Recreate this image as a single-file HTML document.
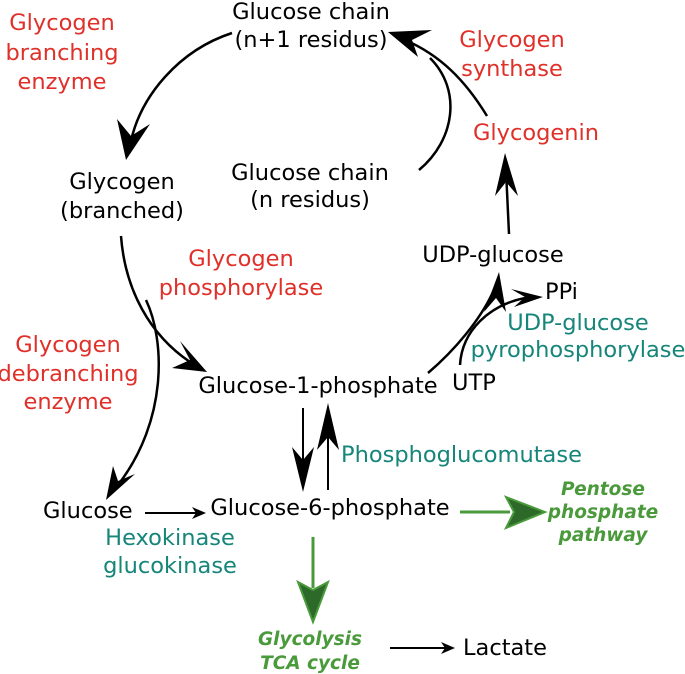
<!DOCTYPE html>
<html><head><meta charset="utf-8"><style>
html,body{margin:0;padding:0;background:#fff;}
svg{display:block;}
text{font-family:"DejaVu Sans","Liberation Sans",sans-serif;font-size:22.5px;}
.k{fill:#000}.r{fill:#e0302a}.t{fill:#16857a}
.g{fill:#4a9a3c;font-weight:bold;font-style:italic;font-size:18.5px}
</style></head><body>
<svg width="685" height="674" viewBox="0 0 685 674" xmlns="http://www.w3.org/2000/svg">
<g fill="none" stroke="#000" stroke-width="2.5">
<path d="M232,33 C180,50 140,95 130,145"/>
<path d="M487,116 C465,80 440,55 405,40"/>
<path d="M419,170 C455,140 462,90 430,58"/>
<path d="M509,234 C508,210 507,190 506,170"/>
<path d="M121,236 C125,290 150,335 190,362"/>
<path d="M146,300 C165,340 168,420 118,485"/>
<path d="M428,373 C455,350 480,320 493,292"/>
<path d="M460,365 C462,330 490,305 525,298"/>
<path d="M303,408 L303,475" stroke-width="2"/>
<path d="M328,490 L328,425" stroke-width="2"/>
<path d="M145,513 L200,513" stroke-width="2"/>
<path d="M390,648 L448,648" stroke-width="2"/>
</g>
<g fill="#000">
<polygon points="126,160 117,119 131,136 150,124"/>
<polygon points="388,32 432,30 412,40 418,57"/>
<polygon points="505,153 495,196 506,182 518,196"/>
<polygon points="207,372 172,368 190,360 180,341"/>
<polygon points="106,500 113,466 118,481 135,474"/>
<polygon points="499,272 484,312 496,298 506,312"/>
<polygon points="543,297 511,289 525,297 514,307"/>
<polygon points="303,492 292,447 303,460 314,447"/>
<polygon points="328,403 317,450 328,437 339,450"/>
<polygon points="206,513 192,507 196,513 192,519"/>
<polygon points="455,648 441,642 445,648 441,654"/>
</g>
<g fill="#2d6a2a" stroke="#4a9a3c" stroke-width="2">
<polygon points="545,512 506,497 514,512 506,528"/>
<polygon points="313,622 298,582 313,590 328,582"/>
</g>
<g stroke="#4a9a3c" stroke-width="3">
<line x1="460" y1="512" x2="510" y2="512"/>
<line x1="313" y1="537" x2="313" y2="588"/>
</g>
<g text-anchor="middle">
<text class="k" x="311" y="19">Glucose chain</text>
<text class="k" x="311" y="47">(n+1 residus)</text>
<text class="r" x="62" y="30">Glycogen</text>
<text class="r" x="62" y="60">branching</text>
<text class="r" x="62" y="89">enzyme</text>
<text class="r" x="512" y="47">Glycogen</text>
<text class="r" x="512" y="76">synthase</text>
<text class="r" x="536" y="140">Glycogenin</text>
<text class="k" x="122" y="189">Glycogen</text>
<text class="k" x="122" y="218">(branched)</text>
<text class="k" x="310" y="180">Glucose chain</text>
<text class="k" x="310" y="207">(n residus)</text>
<text class="k" x="493" y="262">UDP-glucose</text>
<text class="t" x="578" y="330">UDP-glucose</text>
<text class="t" x="578" y="357">pyrophosphorylase</text>
<text class="r" x="241" y="266">Glycogen</text>
<text class="r" x="241" y="295">phosphorylase</text>
<text class="r" x="68" y="352">Glycogen</text>
<text class="r" x="68" y="381">debranching</text>
<text class="r" x="68" y="409">enzyme</text>
<text class="k" x="318" y="393">Glucose-1-phosphate</text>
<text class="k" x="330" y="515">Glucose-6-phosphate</text>
<text class="t" x="170" y="545">Hexokinase</text>
<text class="t" x="170" y="573">glucokinase</text>
<text class="g" x="603" y="495">Pentose</text>
<text class="g" x="603" y="518">phosphate</text>
<text class="g" x="603" y="541">pathway</text>
<text class="g" x="310" y="645">Glycolysis</text>
<text class="g" x="310" y="669">TCA cycle</text>
</g>
<text class="k" x="545" y="299">PPi</text>
<text class="k" x="452" y="390">UTP</text>
<text class="t" x="341" y="462">Phosphoglucomutase</text>
<text class="k" x="43" y="518">Glucose</text>
<text class="k" x="463" y="655">Lactate</text>
</svg>
</body></html>
